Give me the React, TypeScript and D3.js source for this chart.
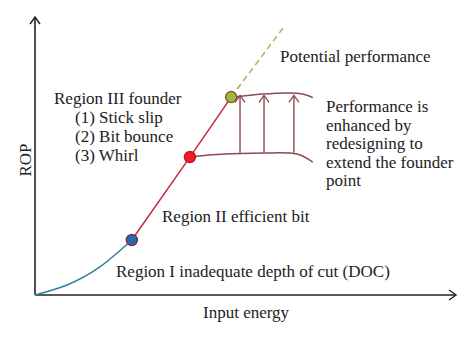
import React from "react";
import * as d3 from "d3";

const W = 474;
const H = 338;

// Data (Input energy, ROP) in arbitrary 0-100 units
const regionICurve: [number, number][] = [
  [0, 0],
  [7.6, 3.6],
  [15.4, 10.1],
  [23.0, 19.8],
];
const regionIILine: [number, number][] = [
  [23.0, 19.8],
  [36.8, 49.6],
  [46.6, 71.2],
];
const potentialLine: [number, number][] = [
  [46.6, 71.2],
  [58.9, 96.0],
];
const upperCurve: [number, number][] = [
  [47.5, 71.2],
  [54.1, 72.3],
  [62.2, 72.6],
  [66.0, 71.0],
];
const lowerCurve: [number, number][] = [
  [36.8, 49.6],
  [45.0, 50.7],
  [55.8, 51.1],
  [62.2, 50.7],
  [66.0, 47.8],
];
const arrowX: number[] = [48.7, 54.4, 61.5];
const arrowBottom = 51.2;
const arrowTop = 71.8;
const keyPoints = [
  { name: "blue", x: 23.0, y: 19.8, fill: "#1e6fb0", stroke: "#8b2a4a" },
  { name: "red", x: 36.8, y: 49.6, fill: "#ee1c24", stroke: "#c8102e" },
  { name: "green", x: 46.6, y: 71.2, fill: "#9bbb45", stroke: "#8a5a2a" },
];
const founderLines: string[] = [
  "Region III founder",
  "(1) Stick slip",
  "(2) Bit bounce",
  "(3) Whirl",
];
const enhancedLines: string[] = [
  "Performance is",
  "enhanced by",
  "redesigning to",
  "extend the founder",
  "point",
];

export default function App() {
  const x = d3.scaleLinear().domain([0, 100]).range([35, 456]);
  const y = d3.scaleLinear().domain([0, 100]).range([295, 17]);
  const line = d3
    .line<[number, number]>()
    .x((d) => x(d[0]))
    .y((d) => y(d[1]));
  const smooth = d3
    .line<[number, number]>()
    .x((d) => x(d[0]))
    .y((d) => y(d[1]))
    .curve(d3.curveNatural);

  const font = "'Liberation Serif', 'Times New Roman', serif";
  const fs = 17;
  const maroon = "#8c4a4f";

  return (
    <svg
      width={W}
      height={H}
      style={{ position: "absolute", left: 0, top: 0, background: "#fff" }}
      fontFamily={font}
    >
      {/* axes */}
      <line x1={x(0)} y1={y(0)} x2={x(0)} y2={y(100)} stroke="#222" strokeWidth={1.6} />
      <path
        d={`M${x(0) - 5},${y(100) + 7} L${x(0)},${y(100)} L${x(0) + 5},${y(100) + 7}`}
        fill="none"
        stroke="#222"
        strokeWidth={1.4}
      />
      <line x1={x(0)} y1={y(0)} x2={x(100)} y2={y(0)} stroke="#222" strokeWidth={1.6} />
      <path
        d={`M${x(100) - 7},${y(0) - 5} L${x(100)},${y(0)} L${x(100) - 7},${y(0) + 5}`}
        fill="none"
        stroke="#222"
        strokeWidth={1.4}
      />

      {/* curves */}
      <path d={smooth(regionICurve) || ""} fill="none" stroke="#2f7fa3" strokeWidth={1.5} />
      <path d={line(regionIILine) || ""} fill="none" stroke="#c8283a" strokeWidth={1.5} />
      <path
        d={line(potentialLine) || ""}
        fill="none"
        stroke="#8dc05a"
        strokeWidth={1.5}
        strokeDasharray="6,4"
      />
      <path d={smooth(upperCurve) || ""} fill="none" stroke={maroon} strokeWidth={1.5} />
      <path d={smooth(lowerCurve) || ""} fill="none" stroke={maroon} strokeWidth={1.5} />

      {arrowX.map((a, i) => (
        <g key={i}>
          <line x1={x(a)} y1={y(arrowBottom)} x2={x(a)} y2={y(arrowTop)} stroke={maroon} strokeWidth={1.4} />
          <path
            d={`M${x(a) - 5},${y(arrowTop) + 7} L${x(a)},${y(arrowTop)} L${x(a) + 5},${y(arrowTop) + 7}`}
            fill="none"
            stroke={maroon}
            strokeWidth={1.3}
          />
        </g>
      ))}

      {keyPoints.map((p) => (
        <circle
          key={p.name}
          cx={x(p.x)}
          cy={y(p.y)}
          r={5.5}
          fill={p.fill}
          stroke={p.stroke}
          strokeWidth={1.5}
        />
      ))}

      {/* text */}
      <g fontSize={fs} fill="#222">
        <text x={280} y={62}>Potential performance</text>
        {enhancedLines.map((t, i) => (
          <text key={i} x={326} y={112 + i * 18.5}>
            {t}
          </text>
        ))}
        <text x={54} y={104}>{founderLines[0]}</text>
        {founderLines.slice(1).map((t, i) => (
          <text key={i} x={75} y={123 + i * 19}>
            {t}
          </text>
        ))}
        <text x={162} y={222}>Region II efficient bit</text>
        <text x={116} y={277}>Region I inadequate depth of cut (DOC)</text>
        <text x={203} y={318}>Input energy</text>
        <text transform="translate(31,160) rotate(-90)" textAnchor="middle">
          ROP
        </text>
      </g>
    </svg>
  );
}
